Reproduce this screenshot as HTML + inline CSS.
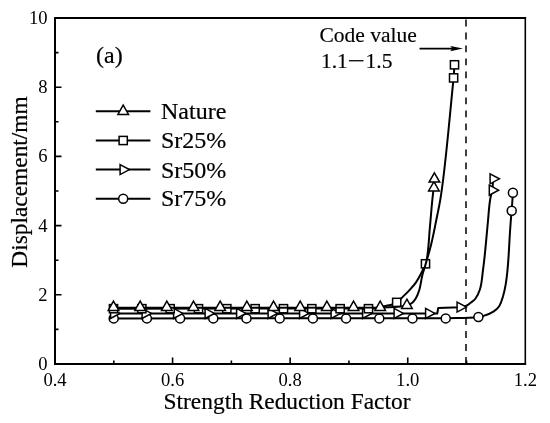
<!DOCTYPE html>
<html><head><meta charset="utf-8"><title>Displacement vs Strength Reduction Factor</title><style>
html,body{margin:0;padding:0;background:#fff;}
body{width:550px;height:423px;overflow:hidden;}
svg{display:block;}
.ln{fill:none;stroke:#000;stroke-width:2.0;stroke-linejoin:round;stroke-linecap:butt;}
.mk{fill:#fff;stroke:#000;stroke-width:1.5;stroke-linejoin:miter;}
.tl{font-family:"Liberation Serif","Times New Roman",serif;font-size:18.6px;fill:#000;}
.at{font-family:"Liberation Serif","Times New Roman",serif;font-size:24px;fill:#000;stroke:#000;stroke-width:0.2px;}
.ax{font-family:"Liberation Serif","Times New Roman",serif;font-size:23.4px;fill:#000;stroke:#000;stroke-width:0.2px;}
.an{font-family:"Liberation Serif","Times New Roman",serif;font-size:21.5px;fill:#000;stroke:#000;stroke-width:0.15px;}
</style></head><body>
<svg width="550" height="423" viewBox="0 0 550 423">
<rect x="0" y="0" width="550" height="423" fill="#fff"/>
<line x1="466" y1="19.6" x2="466" y2="364" stroke="#000" stroke-width="1.5" stroke-dasharray="6.8 6.18"/>
<path d="M113.70 318.40 L445.50 318.30 L445.50 318.30 C456.47 317.87 467.51 318.36 478.40 317.00 C480.16 316.78 481.91 316.44 483.60 315.90 C487.00 314.81 490.42 313.56 493.40 311.60 C495.61 310.15 497.72 308.39 499.20 306.20 C501.23 303.18 502.05 299.49 503.10 296.00 C504.25 292.17 505.02 288.24 505.70 284.30 C506.52 279.57 507.01 274.78 507.50 270.00 C507.98 265.34 508.28 260.67 508.60 256.00 C509.07 249.00 509.35 242.00 509.80 235.00 C510.19 229.00 510.60 222.99 511.10 217.00 C511.28 214.90 511.50 212.80 511.70 210.70 L512.9 192.7" class="ln"/>
<circle cx="113.70" cy="318.40" r="4.5" class="mk"/>
<circle cx="146.90" cy="318.40" r="4.5" class="mk"/>
<circle cx="180.10" cy="318.40" r="4.5" class="mk"/>
<circle cx="213.30" cy="318.40" r="4.5" class="mk"/>
<circle cx="246.50" cy="318.40" r="4.5" class="mk"/>
<circle cx="279.70" cy="318.40" r="4.5" class="mk"/>
<circle cx="312.90" cy="318.40" r="4.5" class="mk"/>
<circle cx="346.10" cy="318.40" r="4.5" class="mk"/>
<circle cx="379.30" cy="318.40" r="4.5" class="mk"/>
<circle cx="412.50" cy="318.40" r="4.5" class="mk"/>
<circle cx="445.70" cy="318.40" r="4.5" class="mk"/>
<circle cx="478.40" cy="317.00" r="4.5" class="mk"/>
<circle cx="511.70" cy="210.70" r="4.5" class="mk"/>
<circle cx="512.90" cy="192.70" r="4.5" class="mk"/>
<path d="M113.70 313.40 L437.30 313.50 L438.20 308.00 L460.20 307.30 L460.20 307.30 C462.47 306.67 464.88 306.42 467.00 305.40 C468.48 304.68 469.70 303.51 471.00 302.50 C472.44 301.38 474.07 300.43 475.20 299.00 C477.39 296.23 478.83 292.87 479.90 289.50 C481.90 283.23 482.10 276.52 483.00 270.00 C483.79 264.28 484.40 258.54 485.00 252.80 C486.04 242.88 486.82 232.93 487.80 223.00 C488.63 214.66 488.92 206.25 490.40 198.00 C490.87 195.36 491.73 192.80 492.40 190.20 L493.2 178.8" class="ln"/>
<path d="M110.60 308.40 L119.90 313.40 L110.60 318.40 Z" class="mk"/>
<path d="M142.10 308.40 L151.40 313.40 L142.10 318.40 Z" class="mk"/>
<path d="M173.60 308.40 L182.90 313.40 L173.60 318.40 Z" class="mk"/>
<path d="M205.10 308.40 L214.40 313.40 L205.10 318.40 Z" class="mk"/>
<path d="M236.60 308.40 L245.90 313.40 L236.60 318.40 Z" class="mk"/>
<path d="M268.10 308.40 L277.40 313.40 L268.10 318.40 Z" class="mk"/>
<path d="M299.60 308.40 L308.90 313.40 L299.60 318.40 Z" class="mk"/>
<path d="M331.10 308.40 L340.40 313.40 L331.10 318.40 Z" class="mk"/>
<path d="M362.60 308.40 L371.90 313.40 L362.60 318.40 Z" class="mk"/>
<path d="M394.10 308.40 L403.40 313.40 L394.10 318.40 Z" class="mk"/>
<path d="M425.60 308.40 L434.90 313.40 L425.60 318.40 Z" class="mk"/>
<path d="M457.10 302.10 L466.40 307.10 L457.10 312.10 Z" class="mk"/>
<path d="M489.30 185.20 L498.60 190.20 L489.30 195.20 Z" class="mk"/>
<path d="M490.10 173.80 L499.40 178.80 L490.10 183.80 Z" class="mk"/>
<path d="M113.50 308.70 L376.00 308.50 L376.00 308.50 C378.67 307.77 381.32 306.98 384.00 306.30 C386.99 305.54 390.10 305.23 393.00 304.20 C394.29 303.74 395.57 303.17 396.70 302.40 C399.06 300.79 400.94 298.58 403.00 296.60 C405.21 294.48 407.43 292.36 409.50 290.10 C411.78 287.60 414.05 285.07 416.00 282.30 C417.74 279.83 419.20 277.18 420.60 274.50 C422.42 271.02 424.13 267.48 425.50 263.80 C427.78 257.68 429.41 251.33 431.00 245.00 C433.08 236.74 434.60 228.35 436.30 220.00 C437.69 213.21 439.16 206.43 440.30 199.60 C441.66 191.44 442.71 183.22 443.70 175.00 C447.58 142.70 450.30 110.27 453.60 77.90 L454.5 64.8" class="ln"/>
<rect x="109.40" y="304.60" width="8.20" height="8.20" class="mk"/>
<rect x="137.73" y="304.60" width="8.20" height="8.20" class="mk"/>
<rect x="166.06" y="304.60" width="8.20" height="8.20" class="mk"/>
<rect x="194.39" y="304.60" width="8.20" height="8.20" class="mk"/>
<rect x="222.72" y="304.60" width="8.20" height="8.20" class="mk"/>
<rect x="251.05" y="304.60" width="8.20" height="8.20" class="mk"/>
<rect x="279.38" y="304.60" width="8.20" height="8.20" class="mk"/>
<rect x="307.71" y="304.60" width="8.20" height="8.20" class="mk"/>
<rect x="336.04" y="304.60" width="8.20" height="8.20" class="mk"/>
<rect x="364.37" y="304.60" width="8.20" height="8.20" class="mk"/>
<rect x="392.60" y="298.30" width="8.20" height="8.20" class="mk"/>
<rect x="421.40" y="259.70" width="8.20" height="8.20" class="mk"/>
<rect x="449.50" y="73.80" width="8.20" height="8.20" class="mk"/>
<rect x="450.40" y="60.70" width="8.20" height="8.20" class="mk"/>
<path d="M113.50 307.70 L380.00 307.60 L380.00 307.60 C388.97 306.87 398.21 307.72 406.90 305.40 C408.72 304.92 410.52 304.16 412.00 303.00 C413.68 301.68 414.92 299.84 416.00 298.00 C417.47 295.52 418.45 292.76 419.30 290.00 C420.21 287.07 420.58 284.00 421.20 281.00 C421.64 278.84 421.96 276.64 422.50 274.50 C423.06 272.30 423.87 270.18 424.50 268.00 C425.27 265.34 426.20 262.72 426.70 260.00 C428.77 248.80 428.92 237.34 430.00 226.00 C431.05 215.00 431.73 203.96 433.10 193.00 C433.31 191.29 433.63 189.60 433.90 187.90 L434.4 179.0" class="ln"/>
<path d="M113.50 301.10 L118.80 310.40 L108.20 310.40 Z" class="mk"/>
<path d="M140.17 301.10 L145.47 310.40 L134.87 310.40 Z" class="mk"/>
<path d="M166.84 301.10 L172.14 310.40 L161.54 310.40 Z" class="mk"/>
<path d="M193.51 301.10 L198.81 310.40 L188.21 310.40 Z" class="mk"/>
<path d="M220.18 301.10 L225.48 310.40 L214.88 310.40 Z" class="mk"/>
<path d="M246.85 301.10 L252.15 310.40 L241.55 310.40 Z" class="mk"/>
<path d="M273.52 301.10 L278.82 310.40 L268.22 310.40 Z" class="mk"/>
<path d="M300.19 301.10 L305.49 310.40 L294.89 310.40 Z" class="mk"/>
<path d="M326.86 301.10 L332.16 310.40 L321.56 310.40 Z" class="mk"/>
<path d="M353.53 301.10 L358.83 310.40 L348.23 310.40 Z" class="mk"/>
<path d="M380.20 301.10 L385.50 310.40 L374.90 310.40 Z" class="mk"/>
<path d="M406.90 299.20 L412.20 308.50 L401.60 308.50 Z" class="mk"/>
<path d="M433.90 181.70 L439.20 191.00 L428.60 191.00 Z" class="mk"/>
<path d="M434.40 172.80 L439.70 182.10 L429.10 182.10 Z" class="mk"/>
<path d="M55 17 V365" stroke="#000" stroke-width="2" fill="none"/>
<path d="M54 18 H526.1" stroke="#000" stroke-width="2" fill="none"/>
<path d="M54 364 H526.1" stroke="#000" stroke-width="2" fill="none"/>
<path d="M525.3 17 V365" stroke="#000" stroke-width="1.6" fill="none"/>
<path d="M113.79 364 V360.50 M172.58 364 V357.50 M231.37 364 V360.50 M290.16 364 V357.50 M348.95 364 V360.50 M407.74 364 V357.50 M466.53 364 V360.50 M55 329.40 H58.50 M55 294.80 H61.50 M55 260.20 H58.50 M55 225.60 H61.50 M55 191.00 H58.50 M55 156.40 H61.50 M55 121.80 H58.50 M55 87.20 H61.50 M55 52.60 H58.50" stroke="#000" stroke-width="1.6" fill="none"/>
<text x="55.00" y="386.2" class="tl" text-anchor="middle">0.4</text>
<text x="172.58" y="386.2" class="tl" text-anchor="middle">0.6</text>
<text x="290.16" y="386.2" class="tl" text-anchor="middle">0.8</text>
<text x="407.74" y="386.2" class="tl" text-anchor="middle">1.0</text>
<text x="525.32" y="386.2" class="tl" text-anchor="middle">1.2</text>
<text x="47.5" y="370.00" class="tl" text-anchor="end">0</text>
<text x="47.5" y="300.80" class="tl" text-anchor="end">2</text>
<text x="47.5" y="231.60" class="tl" text-anchor="end">4</text>
<text x="47.5" y="162.40" class="tl" text-anchor="end">6</text>
<text x="47.5" y="93.20" class="tl" text-anchor="end">8</text>
<text x="47.5" y="24.00" class="tl" text-anchor="end">10</text>
<text x="287" y="409.2" class="ax" text-anchor="middle">Strength Reduction Factor</text>
<text transform="translate(26.7 182) rotate(-90)" x="0" y="0" class="ax" text-anchor="middle">Displacement/mm</text>
<text x="96" y="62.9" class="at">(a)</text>
<text x="319.5" y="41.5" class="an">Code value</text>
<text x="320.9" y="68.4" class="an">1.1</text><text x="347.4" y="68.4" class="an" textLength="17.3" lengthAdjust="spacingAndGlyphs">−</text><text x="365.6" y="68.4" class="an">1.5</text>
<line x1="419.5" y1="48.6" x2="455" y2="48.6" stroke="#000" stroke-width="1.6"/>
<path d="M463 48.6 L450.3 45.9 L452.3 48.6 L450.3 51.3 Z" fill="#000"/>
<line x1="95.8" y1="111.30" x2="150.4" y2="111.30" class="ln"/>
<path d="M123.20 105.10 L128.50 114.40 L117.90 114.40 Z" class="mk"/>
<text x="161" y="119.00" class="at">Nature</text>
<line x1="95.8" y1="140.50" x2="150.4" y2="140.50" class="ln"/>
<rect x="119.10" y="136.40" width="8.20" height="8.20" class="mk"/>
<text x="161" y="148.40" class="at">Sr25%</text>
<line x1="95.8" y1="169.60" x2="150.4" y2="169.60" class="ln"/>
<path d="M120.10 164.60 L129.40 169.60 L120.10 174.60 Z" class="mk"/>
<text x="161" y="177.50" class="at">Sr50%</text>
<line x1="95.8" y1="198.70" x2="150.4" y2="198.70" class="ln"/>
<circle cx="123.20" cy="198.70" r="4.5" class="mk"/>
<text x="161" y="206.40" class="at">Sr75%</text>
</svg>
</body></html>
